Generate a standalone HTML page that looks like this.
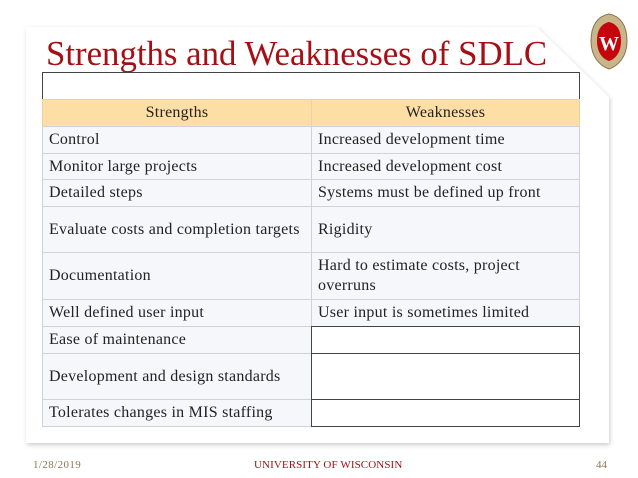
<!DOCTYPE html>
<html><head><meta charset="utf-8"><style>
*{margin:0;padding:0;box-sizing:border-box}
body{width:638px;height:478px;background:#fff;position:relative;overflow:hidden;font-family:"Liberation Serif",serif}
.abs{position:absolute}
.c{position:absolute;font-size:16px;color:#222;display:flex;align-items:center;padding-left:6px;line-height:20px;letter-spacing:0.25px}
.s{background:#f5f7fa;border:1px solid #cfd3d8}
.e{background:#fff;border:1px solid #444}
.h{background:#fddfa6;border:1px solid #e8d2a8;justify-content:center;padding-left:0}
</style></head><body>
<svg class="abs" style="left:0;top:0" width="638" height="478">
<defs><filter id="sh" x="-5%" y="-5%" width="110%" height="110%"><feGaussianBlur stdDeviation="2"/></filter></defs>
<polygon points="27,29 538,29 610,99 610,445 27,445" fill="#ccc" filter="url(#sh)"/>
<polygon points="26,27 537,27 609,97 609,443 26,443" fill="#fff"/>
</svg>
<div class="abs" style="left:46px;top:34px;font-size:34.8px;color:#a50f15;white-space:nowrap;letter-spacing:0px">Strengths and Weaknesses of SDLC</div>
<svg class="abs" style="left:590px;top:13px" width="38" height="57">
<path d="M19 1 C30 3 37 12 37 28 C37 44 28 53 19 56 C10 53 1 44 1 28 C1 12 8 3 19 1Z" fill="#c9b58a" stroke="#8a7550"/>
<path d="M19 9 C27 11 31 17 31 28 C31 40 25 46 19 48 C13 46 7 40 7 28 C7 17 11 11 19 9Z" fill="#c5050c"/>
<text x="19" y="37" font-size="20" fill="#fff" text-anchor="middle" font-family="Liberation Serif" font-weight="bold">W</text>
</svg>
<div id="tbl"></div>
<div class="abs" style="left:33px;top:459px;font-size:11px;color:#8a7a55;letter-spacing:0.4px">1/28/2019</div>
<div class="abs" style="left:254px;top:459px;font-size:11px;color:#a50f15;letter-spacing:0.1px">UNIVERSITY OF WISCONSIN</div>
<div class="abs" style="left:596px;top:459px;font-size:11px;color:#8a7a55">44</div>
<script>
const strengths=["Control","Monitor large projects","Detailed steps","Evaluate costs and completion targets","Documentation","Well defined user input","Ease of maintenance","Development and design standards","Tolerates changes in MIS staffing"];
const weaknesses=["Increased development time","Increased development cost","Systems must be defined up front","Rigidity","Hard to estimate costs, project overruns","User input is sometimes limited","","",""];
const rowH=[27,26,27,46,47,27,27,46,27];
const t=document.getElementById('tbl');
function cell(x,y,w,h,cls,txt,name){const d=document.createElement('div');d.className='c '+cls;d.style.left=x+'px';d.style.top=y+'px';d.style.width=w+'px';d.style.height=h+'px';d.textContent=txt;


t.appendChild(d);}
cell(42,72,538,28,'e','','blank-top-row');
cell(42,99,270,28,'h','Strengths','header-strengths');
cell(311,99,269,28,'h','Weaknesses','header-weaknesses');
let y=126;
for(let i=0;i<strengths.length;i++){
cell(42,y,270,rowH[i]+1,'s',strengths[i],'strength-cell');
const w=weaknesses[i];
cell(311,y,269,rowH[i]+1,w?'s':'e',w,'weakness-cell');
if(w.length>34){t.lastChild.style.paddingRight='40px';}
y+=rowH[i];}
</script>
</body></html>
